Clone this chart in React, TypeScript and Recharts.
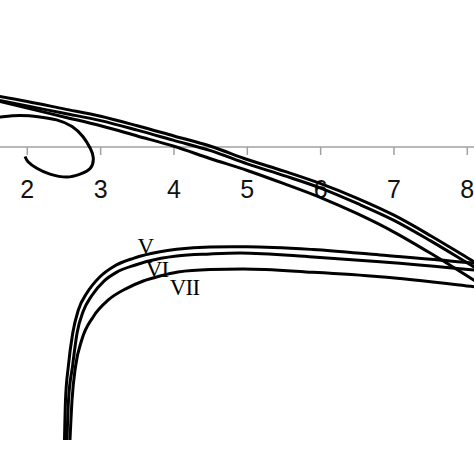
import React from 'react';
import { LineChart, Line, XAxis, YAxis, ReferenceDot } from 'recharts';

const X_DOMAIN: [number, number] = [1.6277, 8.0913];
const Y_DOMAIN: [number, number] = [-4.4593, 2.0046];
const xTicks = [2, 3, 4, 5, 6, 7, 8];

// upper group (three nearly parallel curves)
const upperX = [1.5, 2, 2.5, 3, 3.5, 4, 4.5, 5, 5.5, 6, 6.5, 7, 7.5, 8, 8.3];
const line1Y = [0.71, 0.62, 0.52, 0.42, 0.29, 0.15, 0.01, -0.17, -0.33, -0.5, -0.7, -0.93, -1.21, -1.51, -1.69];
const line2Y = [0.66, 0.56, 0.46, 0.36, 0.23, 0.09, -0.05, -0.23, -0.39, -0.56, -0.77, -1.0, -1.28, -1.58, -1.76];
const line3Y = [0.65, 0.53, 0.41, 0.29, 0.15, 0.01, -0.16, -0.32, -0.5, -0.69, -0.91, -1.16, -1.45, -1.76, -1.95];

// loop curve
const loopX = [1.49, 1.63, 1.9, 2.17, 2.4, 2.61, 2.76, 2.86, 2.9, 2.86, 2.72, 2.54, 2.31, 2.13, 2.01, 1.97];
const loopY = [0.4, 0.41, 0.43, 0.41, 0.37, 0.28, 0.14, -0.02, -0.15, -0.29, -0.37, -0.41, -0.37, -0.29, -0.2, -0.13];

// curve V
const vX = [2.507, 2.521, 2.559, 2.619, 2.696, 2.81, 2.991, 3.173, 3.446, 3.81, 4.037, 4.492, 4.992, 5.896, 6.81, 8.092, 8.31];
const vY = [-3.996, -3.45, -2.996, -2.541, -2.223, -1.995, -1.769, -1.632, -1.518, -1.428, -1.395, -1.364, -1.36, -1.398, -1.473, -1.586, -1.609];

// curve VI
const viX = [2.541, 2.562, 2.616, 2.678, 2.764, 2.873, 3.049, 3.215, 3.474, 3.823, 4.037, 4.492, 4.901, 5.896, 6.81, 8.092, 8.31];
const viY = [-3.996, -3.45, -2.996, -2.541, -2.237, -2.036, -1.826, -1.71, -1.609, -1.518, -1.486, -1.459, -1.446, -1.5, -1.564, -1.677, -1.698];

// curve VII
const viiX = [2.582, 2.61, 2.657, 2.742, 2.9, 3.105, 3.356, 3.582, 3.81, 4.055, 4.492, 4.942, 5.896, 6.81, 8.092, 8.31];
const viiY = [-3.996, -3.45, -2.996, -2.632, -2.314, -2.086, -1.927, -1.827, -1.759, -1.705, -1.671, -1.664, -1.709, -1.769, -1.905, -1.93];

// curve labels
const labelText = ['V', 'VI', 'VII'];
const labelX = [3.61, 3.769, 4.144];
const labelY = [-1.343, -1.664, -1.905];

const toPoints = (xs: number[], ys: number[]) => xs.map((x, i) => ({ x, y: ys[i] }));

const curves = [
  { id: 'u1', data: toPoints(upperX, line1Y), type: 'monotone' },
  { id: 'u2', data: toPoints(upperX, line2Y), type: 'monotone' },
  { id: 'u3', data: toPoints(upperX, line3Y), type: 'monotone' },
  { id: 'loop', data: toPoints(loopX, loopY), type: 'natural' },
  { id: 'V', data: toPoints(vX, vY), type: 'monotone' },
  { id: 'VI', data: toPoints(viX, viY), type: 'monotone' },
  { id: 'VII', data: toPoints(viiX, viiY), type: 'monotone' },
];

const labels = labelText.map((t, i) => ({ text: t, x: labelX[i], y: labelY[i] }));

export default function App() {
  return (
    <div style={{ position: 'absolute', left: 0, top: 0, width: 474, height: 474, overflow: 'hidden', background: '#fff' }}>
      <div style={{ position: 'absolute', left: 0, top: 0 }}>
        <LineChart width={474} height={207} margin={{ top: 0, right: 0, bottom: 0, left: 0 }} data={[]}>
          <XAxis
            type="number"
            dataKey="x"
            domain={X_DOMAIN}
            allowDataOverflow
            ticks={xTicks}
            interval={0}
            height={60}
            tickSize={8}
            tickMargin={25}
            stroke="#a0a0a0"
            strokeWidth={1.5}
            tick={{ fill: '#111', fontSize: 25, fontFamily: '"Liberation Sans", Arial, sans-serif' }}
          />
          <YAxis hide type="number" domain={Y_DOMAIN} allowDataOverflow />
        </LineChart>
      </div>
      <div style={{ position: 'absolute', left: 0, top: 0 }}>
        <LineChart width={474} height={474} margin={{ top: 0, right: 0, bottom: 0, left: 0 }}>
          <XAxis hide type="number" dataKey="x" domain={X_DOMAIN} allowDataOverflow />
          <YAxis hide type="number" domain={Y_DOMAIN} allowDataOverflow />
          {curves.map((c) => (
            <Line
              key={c.id}
              data={c.data}
              dataKey="y"
              type={c.type as any}
              stroke="#000"
              strokeWidth={3}
              dot={false}
              activeDot={false}
              isAnimationActive={false}
            />
          ))}
          {labels.map((l) => (
            <ReferenceDot
              key={l.text}
              x={l.x}
              y={l.y}
              r={0}
              fill="none"
              stroke="none"
              label={{
                value: l.text,
                position: 'center',
                fill: '#000',
                fontSize: 23,
                letterSpacing: -0.8,
                fontFamily: '"Liberation Serif", "Times New Roman", serif',
              }}
            />
          ))}
        </LineChart>
      </div>
    </div>
  );
}
